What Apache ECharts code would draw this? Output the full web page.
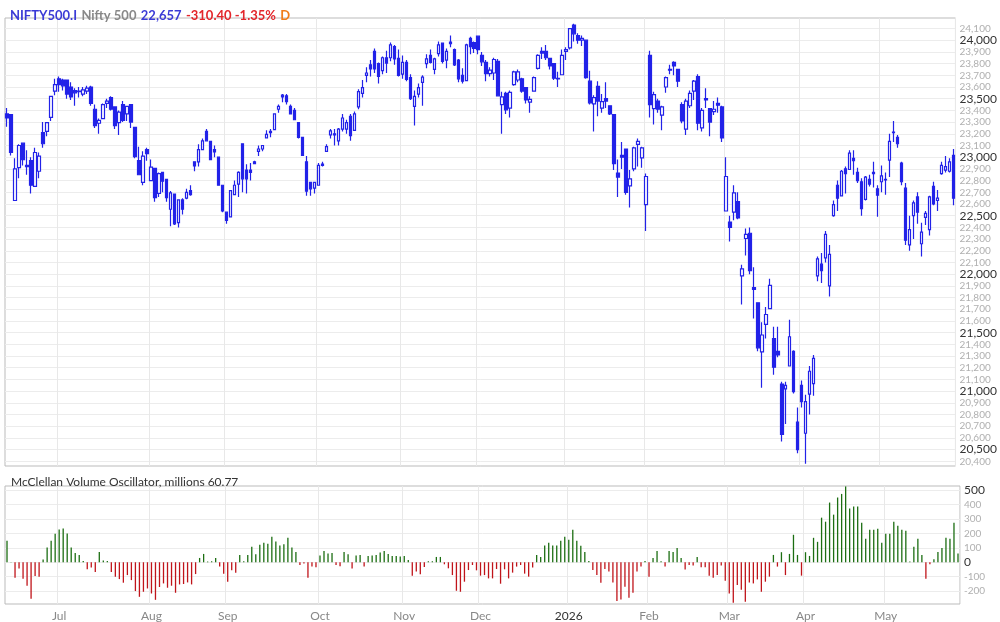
<!DOCTYPE html>
<html>
<head>
<meta charset="utf-8">
<script src="https://cdn.jsdelivr.net/npm/echarts@6/dist/echarts.min.js"></script>
<style>
html, body { margin: 0; padding: 0; background: #fff; }
#chart { width: 1000px; height: 622px; }
</style>
</head>
<body>
<div id="chart"></div>
<script>
// trading days per month, Jun 2025 .. May 2026
var monthNames = ['Jun', 'Jul', 'Aug', 'Sep', 'Oct', 'Nov', 'Dec', '2026', 'Feb', 'Mar', 'Apr', 'May'];
var monthBars = [13, 23, 19, 23, 21, 19, 22, 20, 20, 19, 20, 19];

// tick labels
var priceTicks = [];
for (var t = 20400; t <= 24100; t += 100) priceTicks.push(t);
var oscTicks = [-200, -100, 0, 100, 200, 300, 400, 500];

// [open, high, low, close]
var ohlc = [
[23370,23420,23260,23335],[23365,23365,23015,23040],[22630,22990,22630,22900],[22910,23110,22820,23100],
[23120,23120,22930,22980],[22930,23060,22850,22920],[22970,23000,22690,22760],[22750,23080,22750,23040],
[22880,23040,22820,23010],[23210,23300,23080,23115],[23220,23300,23180,23295],[23340,23520,23310,23520],
[23565,23670,23530,23620],[23670,23690,23560,23620],[23660,23670,23570,23610],[23660,23660,23500,23540],
[23600,23640,23490,23515],[23570,23590,23440,23550],[23565,23600,23510,23560],[23540,23600,23520,23575],
[23565,23610,23540,23590],[23600,23610,23440,23460],[23410,23450,23250,23270],[23290,23330,23200,23315],
[23330,23460,23330,23450],[23460,23500,23420,23480],[23510,23520,23400,23410],[23430,23430,23240,23270],
[23295,23400,23190,23385],[23450,23480,23300,23315],[23370,23440,23310,23435],[23450,23450,23250,23300],
[23255,23255,22990,23005],[22970,23090,22850,22850],[22785,23050,22760,23010],[23065,23080,22970,23030],
[22800,22980,22800,22915],[22905,22905,22620,22655],[22690,22870,22660,22860],[22870,22870,22700,22795],
[22810,22810,22620,22655],[22555,22710,22410,22695],[22685,22685,22420,22430],[22440,22635,22400,22635],
[22635,22650,22510,22555],[22650,22730,22640,22700],[22715,22760,22670,22680],[22960,22960,22880,22925],
[22960,23110,22920,23065],[23065,23160,23065,23140],[23220,23240,23140,23140],[23135,23135,22980,22980],
[23065,23100,23000,23045],[23000,23000,22760,22760],[22760,22760,22530,22540],[22530,22530,22430,22460],
[22490,22715,22490,22715],[22680,22800,22680,22760],[22770,22880,22660,22870],[23115,23115,22700,22815],
[22890,22940,22690,22815],[22890,22950,22800,22870],[22960,22970,22940,22945],[23050,23100,23010,23070],
[23070,23100,23050,23100],[23165,23230,23165,23195],[23220,23240,23170,23210],[23235,23370,23230,23370],
[23410,23450,23380,23435],[23530,23540,23470,23515],[23525,23540,23450,23475],[23435,23450,23370,23370],
[23400,23420,23320,23320],[23295,23295,23160,23170],[23170,23170,23010,23015],[22960,23010,22670,22710],
[22785,22785,22670,22730],[22735,22790,22690,22785],[22760,22950,22760,22930],[22940,22960,22920,22930],
[23050,23110,23050,23090],[23190,23240,23160,23225],[23200,23240,23100,23190],[23140,23250,23100,23240],
[23240,23370,23220,23335],[23240,23320,23200,23295],[23350,23370,23140,23185],[23230,23390,23230,23370],
[23430,23580,23410,23560],[23545,23660,23510,23595],[23700,23770,23640,23720],[23790,23830,23690,23755],
[23905,23930,23720,23755],[23800,23810,23630,23690],[23740,23860,23710,23850],[23850,23910,23720,23805],
[23850,23980,23820,23960],[23945,23960,23790,23840],[23845,23920,23690,23700],[23710,23870,23670,23810],
[23810,23830,23650,23665],[23680,23710,23490,23500],[23435,23570,23270,23520],[23540,23630,23510,23595],
[23640,23700,23440,23685],[23800,23880,23760,23840],[23870,23920,23800,23810],[23750,23850,23710,23840],
[23885,23990,23860,23960],[23975,23980,23800,23820],[23830,23930,23760,23905],[23985,24040,23940,23970],
[23920,23930,23780,23790],[23830,23840,23640,23670],[23700,23760,23630,23650],[23655,23970,23650,23960],
[24015,24030,23880,23945],[23980,23990,23890,23930],[24035,24040,23880,23920],[23870,23900,23780,23815],
[23810,23830,23650,23715],[23715,23770,23690,23745],[23720,23850,23660,23835],[23820,23840,23520,23525],
[23450,23560,23200,23515],[23545,23560,23370,23405],[23420,23570,23340,23555],[23620,23740,23610,23730],
[23660,23750,23640,23730],[23670,23680,23550,23565],[23595,23600,23460,23490],[23470,23520,23380,23495],
[23565,23690,23560,23680],[23760,23880,23750,23870],[23905,23940,23840,23890],[23905,23960,23830,23850],
[23845,23850,23750,23780],[23800,23800,23660,23675],[23675,23730,23600,23670],[23705,23920,23700,23870],
[23905,23940,23830,23920],[23935,24100,23920,24100],[24130,24140,23990,24055],[24040,24060,23970,24000],
[24000,24040,23950,24015],[24000,24000,23670,23680],[23650,23740,23450,23465],[23455,23530,23220,23510],
[23605,23650,23350,23480],[23420,23540,23380,23475],[23500,23640,23420,23480],[23440,23440,23360,23370],
[23365,23365,22890,22945],[22865,22980,22660,22830],[23015,23130,22900,23000],[23070,23070,22680,22700],
[22755,22890,22570,22815],[22900,23090,22880,23080],[23110,23160,22920,23135],[22995,23090,22910,23080],
[22595,22860,22370,22835],[23870,23910,23340,23450],[23415,23560,23280,23535],[23480,23500,23380,23410],
[23360,23440,23230,23430],[23600,23690,23550,23680],[23750,23790,23710,23745],[23810,23820,23700,23780],
[23750,23750,23600,23650],[23450,23470,23290,23310],[23240,23500,23190,23480],[23440,23570,23420,23545],
[23565,23660,23490,23650],[23690,23710,23230,23290],[23250,23420,23220,23400],[23500,23590,23420,23490],
[23415,23420,23180,23300],[23390,23480,23360,23410],[23460,23510,23380,23445],[23430,23440,23130,23165],
[22540,23000,22540,22835],[22445,22500,22280,22400],[22530,22760,22460,22695],[22620,22700,22470,22480],
[21985,22080,21740,22045],[22305,22390,22160,22340],[22350,22400,22000,22030],[21885,22060,21620,21870],
[21755,21755,21340,21370],[21335,21590,21030,21480],[21570,21720,21450,21655],[21705,21960,21700,21905],
[21450,21550,21140,21205],[21340,21550,21290,21310],[21060,21080,20570,20630],[21020,21080,20720,21050],
[21215,21610,21215,21465],[21340,21350,20980,20995],[20735,20860,20470,20500],[21050,21090,20860,20910],
[20640,20970,20380,20910],[20975,21215,20800,21170],[21065,21310,20960,21280],[21985,22150,21940,22130],
[22085,22180,21925,22030],[22140,22370,22100,22340],[21900,22250,21810,22170],[22500,22630,22490,22595],
[22760,22800,22540,22650],[22670,22890,22670,22880],[22900,22920,22690,22860],[22895,23060,22890,23035],
[22990,23060,22850,22970],[22870,22910,22780,22800],[22790,22820,22500,22560],[22640,22840,22630,22830],
[22810,22850,22750,22770],[22870,22960,22740,22860],[22730,22760,22490,22675],[22790,22930,22700,22840],
[22810,22870,22680,22805],[22975,23200,22830,23135],[23215,23310,23130,23210],[23170,23190,23080,23115],
[22950,22960,22760,22790],[22735,22780,22250,22290],[22250,22500,22200,22380],[22500,22630,22300,22610],
[22660,22700,22430,22530],[22260,22440,22150,22360],[22485,22540,22420,22520],[22380,22670,22330,22660],
[22750,22790,22590,22600],[22630,22720,22540,22650],[22860,22960,22850,22930],[22890,23010,22870,22920],
[22880,22990,22870,22960],[23015,23070,22590,22650]
];

// McClellan Volume Oscillator, millions
var osc = [
150,2,-107,-44,-114,-163,-254,-96,-100,19,103,149,198,228,235,200,103,65,51,9,
-49,-37,-68,72,12,9,-68,-100,-117,-142,-89,-124,-200,-240,-205,-182,-217,-261,-172,-147,
-177,-163,-212,-154,-151,-140,-154,-82,30,58,5,7,30,-30,-79,-135,-56,-72,51,7,
51,107,56,121,135,128,177,144,116,126,170,103,72,-19,-9,-107,-30,-35,47,79,
61,65,-19,-28,72,56,-44,47,51,-30,44,47,51,68,79,58,44,44,40,44,
16,-93,-65,-84,-33,7,7,37,37,-14,-42,-89,-198,-205,-135,-54,-19,-56,-93,-89,
-112,-112,-47,-149,-49,-112,-72,-30,-19,-79,-100,-37,51,37,116,135,116,116,149,177,
156,226,149,114,72,9,-54,-89,-142,-47,-65,-140,-270,-259,-170,-247,-212,-65,-30,9,
-100,30,79,7,-30,79,72,100,30,-51,-19,-23,37,-35,-35,-93,-107,-89,-23,-128,
-217,-282,-158,-191,-275,-140,-147,-119,-205,-135,-100,51,-30,70,-89,58,191,51,-93,70,
44,170,142,310,282,415,331,450,475,527,373,387,387,275,163,226,226,233,135,198,
198,282,254,226,219,5,107,163,51,-114,-14,21,72,100,170,163,275,60.77
];

var cats = [];
var monthStart = {};
monthNames.forEach(function (m, i) {
	monthStart[cats.length] = m;
	for (var k = 0; k < monthBars[i]; k++) cats.push(m + ' ' + (k + 1));
});
delete monthStart[0];
function isMonthStart(idx) { return monthStart[idx] !== undefined; }

var candleData = ohlc.map(function (d) { return [d[0], d[3], d[2], d[1]]; });
var blue = '#2222e8';
var labelRich = {
	M: { color: '#333', fontSize: 12, fontFamily: 'Lato' },
	n: { color: '#b0b0b0', fontSize: 10, fontFamily: 'Lato' }
};

var chart = echarts.init(document.getElementById('chart'));
var option = {
	animation: false,
	textStyle: { fontFamily: 'Lato' },
	title: [{
		left: 5, top: 2,
		text: '{a|NIFTY500.I} {b|Nifty 500} {a|22,657} {c|-310.40 -1.35%} {d|D}',
		textStyle: {
			rich: {
				a: { color: '#3b3bd6', fontSize: 13, fontFamily: 'Lato' },
				b: { color: '#888', fontSize: 13, fontFamily: 'Lato' },
				c: { color: '#e3262b', fontSize: 13, fontFamily: 'Lato' },
				d: { color: '#f07d1a', fontSize: 13, fontFamily: 'Lato' }
			}
		}
	}, {
		left: 6, top: 471,
		text: 'McClellan Volume Oscillator, millions 60.77',
		textStyle: { color: '#333', fontSize: 12, fontWeight: 'normal', fontFamily: 'Lato' }
	}],
	grid: [
		{ left: 5, right: 40, top: 18, bottom: 156, show: true, borderColor: '#bbb', borderWidth: 1 },
		{ left: 5, right: 40, top: 486, bottom: 18, show: true, borderColor: '#bbb', borderWidth: 1 }
	],
	xAxis: [{
		type: 'category', gridIndex: 0, data: cats,
		axisLine: { show: false }, axisTick: { show: false }, axisLabel: { show: false },
		splitLine: { show: true, interval: isMonthStart, lineStyle: { color: '#e8e8e8' } }
	}, {
		type: 'category', gridIndex: 1, data: cats,
		axisLine: { show: false }, axisTick: { show: false },
		axisLabel: {
			interval: isMonthStart, margin: 6,
			formatter: function (v, idx) {
				var m = monthStart[idx];
				if (m === undefined) return '';
				return m === '2026' ? '{y|2026}' : '{m|' + m + '}';
			},
			rich: {
				m: { color: '#888', fontSize: 12, fontFamily: 'Lato' },
				y: { color: '#333', fontSize: 12, fontFamily: 'Lato' }
			}
		},
		splitLine: { show: true, interval: isMonthStart, lineStyle: { color: '#e8e8e8' } }
	}],
	yAxis: [{
		type: 'value', gridIndex: 0, position: 'right', min: 20360, max: 24190,
		axisLine: { show: false },
		axisTick: { show: false, customValues: priceTicks },
		splitLine: { show: true, lineStyle: { color: '#ececec' } },
		axisLabel: {
			margin: 4, customValues: priceTicks, rich: labelRich,
			formatter: function (v) {
				var s = v.toLocaleString('en-US');
				return v % 500 === 0 ? '{M|' + s + '}' : '{n|' + s + '}';
			}
		}
	}, {
		type: 'value', gridIndex: 1, position: 'right', min: -290, max: 530,
		axisLine: { show: false },
		axisTick: { show: false, customValues: oscTicks },
		splitLine: { show: true, lineStyle: { color: '#ececec' } },
		axisLabel: {
			margin: 4, customValues: oscTicks, rich: labelRich,
			formatter: function (v) {
				return (v === 0 || v === 500) ? '{M|' + v + '}' : '{n|' + v + '}';
			}
		}
	}],
	series: [{
		type: 'candlestick', xAxisIndex: 0, yAxisIndex: 0,
		data: candleData, barWidth: 3,
		itemStyle: { color: '#fff', color0: blue, borderColor: blue, borderColor0: blue, borderWidth: 1.2 }
	}, {
		type: 'bar', xAxisIndex: 1, yAxisIndex: 1, barWidth: 1.3,
		data: osc.map(function (v) {
			return { value: v, itemStyle: { color: v >= 0 ? '#1c6e12' : '#c0141a' } };
		})
	}]
};
chart.setOption(option);
</script>
</body>
</html>
